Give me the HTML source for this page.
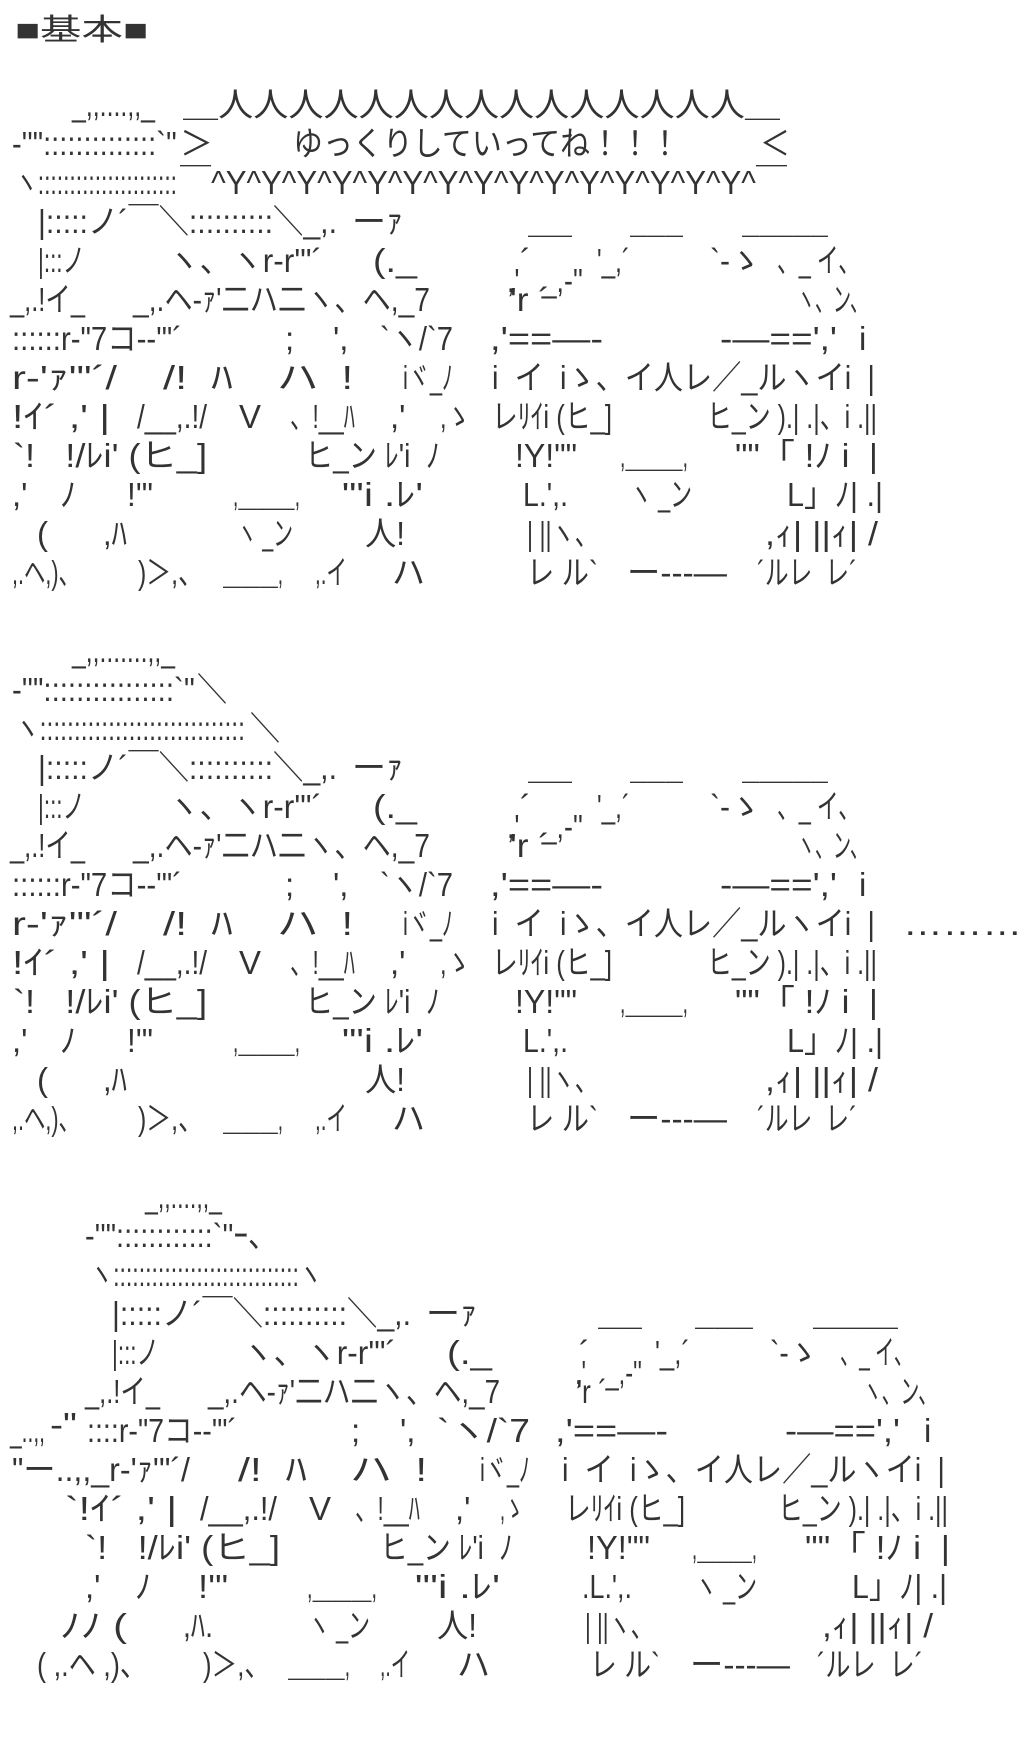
<!DOCTYPE html>
<html><head><meta charset="utf-8">
<style>
html,body{margin:0;padding:0;background:#fff;}
svg{display:block;}
text{font-family:"Liberation Sans","Noto Sans CJK JP",sans-serif;font-size:33px;fill:#333;white-space:pre;}
</style></head>
<body>
<svg width="1029" height="1755" viewBox="0 0 1029 1755" xmlns="http://www.w3.org/2000/svg" xml:space="preserve">
<text x="15" y="40" textLength="133" lengthAdjust="spacingAndGlyphs" style="font-size:30px">■基本■</text>

<!-- ART 1 -->
<g>
<text x="72" y="116" textLength="83" lengthAdjust="spacingAndGlyphs">_,,....,,_</text>
<text x="183" y="116" textLength="597" lengthAdjust="spacingAndGlyphs">＿人人人人人人人人人人人人人人人＿</text>
<text x="12" y="155" textLength="165" lengthAdjust="spacingAndGlyphs">-''"::::::::::::::`''</text>
<text x="180" y="155" textLength="33" lengthAdjust="spacingAndGlyphs">＞</text>
<text x="293" y="155" textLength="387" lengthAdjust="spacingAndGlyphs">ゆっくりしていってね！！！</text>
<text x="760" y="155" textLength="30" lengthAdjust="spacingAndGlyphs">＜</text>
<text x="15" y="194" textLength="162" lengthAdjust="spacingAndGlyphs">ヽ::::::::::::::::::::::</text>
<text x="180" y="194" textLength="607" lengthAdjust="spacingAndGlyphs">￣^Y^Y^Y^Y^Y^Y^Y^Y^Y^Y^Y^Y^Y^Y^Y^￣</text>
<text x="38" y="233" textLength="299" lengthAdjust="spacingAndGlyphs">|:::::ノ´￣＼::::::::::＼_,.</text>
<text x="352" y="233" textLength="51" lengthAdjust="spacingAndGlyphs">ーｧ</text>
<text x="528" y="233" textLength="44" lengthAdjust="spacingAndGlyphs">＿＿</text>
<text x="630" y="233" textLength="53" lengthAdjust="spacingAndGlyphs">＿＿＿</text>
<text x="742" y="233" textLength="86" lengthAdjust="spacingAndGlyphs">＿＿＿＿＿</text>
<text x="38" y="272" textLength="47" lengthAdjust="spacingAndGlyphs">|:::ノ</text>
<text x="168" y="272" textLength="154" lengthAdjust="spacingAndGlyphs">ヽ、ヽr-r'"´</text>
<text x="373" y="272" textLength="44" lengthAdjust="spacingAndGlyphs">(._</text>
<text x="520" y="272">´</text>
<text x="597" y="272" textLength="33" lengthAdjust="spacingAndGlyphs">'_,´</text>
<text x="710" y="272" textLength="50" lengthAdjust="spacingAndGlyphs">`-ゝ</text>
<text x="777" y="272" textLength="83" lengthAdjust="spacingAndGlyphs">、_ イ、</text>
<text x="507" y="292" textLength="76" lengthAdjust="spacingAndGlyphs">,'   _,-''</text>
<text x="10" y="311" textLength="75" lengthAdjust="spacingAndGlyphs">_,.!イ_</text>
<text x="133" y="311" textLength="297" lengthAdjust="spacingAndGlyphs">_,.ヘ-ｧ'二ハ二ヽ、ヘ,_7</text>
<text x="510" y="311" textLength="40" lengthAdjust="spacingAndGlyphs">'r ´</text>
<text x="797" y="311" textLength="71" lengthAdjust="spacingAndGlyphs">ヽ、ン、</text>
<text x="12" y="350" textLength="170" lengthAdjust="spacingAndGlyphs">::::::r-"7コ--'"´</text>
<text x="285" y="350">;</text>
<text x="333" y="350">',</text>
<text x="380" y="350" textLength="73" lengthAdjust="spacingAndGlyphs">`ヽ/`7</text>
<text x="490" y="350" textLength="113" lengthAdjust="spacingAndGlyphs">,'==—-</text>
<text x="720" y="350" textLength="117" lengthAdjust="spacingAndGlyphs">-—==','</text>
<text x="859" y="350">i</text>
<text x="12" y="389" textLength="105" lengthAdjust="spacingAndGlyphs">r-'ｧ'"´/</text>
<text x="163" y="389" textLength="70" lengthAdjust="spacingAndGlyphs">/!  ﾊ</text>
<text x="277" y="389" textLength="76" lengthAdjust="spacingAndGlyphs">ハ  !</text>
<text x="403" y="389" textLength="50" lengthAdjust="spacingAndGlyphs">iヾ_ﾉ</text>
<text x="492" y="389" textLength="383" lengthAdjust="spacingAndGlyphs">i  イ  iゝ、イ人レ／_ルヽイi  |</text>
<text x="12" y="428" textLength="98" lengthAdjust="spacingAndGlyphs">!ｲ´ ,' |</text>
<text x="137" y="428" textLength="70" lengthAdjust="spacingAndGlyphs">/__,.!/</text>
<text x="239" y="428">V</text>
<text x="290" y="428" textLength="65" lengthAdjust="spacingAndGlyphs">、!__ﾊ</text>
<text x="390" y="428">,'</text>
<text x="440" y="428" textLength="30" lengthAdjust="spacingAndGlyphs">,ゝ</text>
<text x="492" y="428" textLength="120" lengthAdjust="spacingAndGlyphs">レﾘｲi (ヒ_]</text>
<text x="707" y="428" textLength="170" lengthAdjust="spacingAndGlyphs">ヒ_ン ).| .|、i .||</text>
<text x="13" y="467" textLength="194" lengthAdjust="spacingAndGlyphs">`!   !/ﾚi' (ヒ_]</text>
<text x="305" y="467" textLength="135" lengthAdjust="spacingAndGlyphs">ヒ_ン ﾚ'i  ﾉ</text>
<text x="515" y="467" textLength="62" lengthAdjust="spacingAndGlyphs">!Y!""</text>
<text x="620" y="467" textLength="68" lengthAdjust="spacingAndGlyphs">,＿＿＿,</text>
<text x="735" y="467" textLength="143" lengthAdjust="spacingAndGlyphs">""「 !ﾉ i  |</text>
<text x="12" y="506">,'</text>
<text x="60" y="506">ﾉ</text>
<text x="127" y="506" textLength="26" lengthAdjust="spacingAndGlyphs">!'"</text>
<text x="233" y="506" textLength="67" lengthAdjust="spacingAndGlyphs">,＿＿＿,</text>
<text x="342" y="506" textLength="81" lengthAdjust="spacingAndGlyphs">"'i .ﾚ'</text>
<text x="523" y="506" textLength="45" lengthAdjust="spacingAndGlyphs">L.',.</text>
<text x="630" y="506" textLength="62" lengthAdjust="spacingAndGlyphs">ヽ _ン</text>
<text x="787" y="506" textLength="96" lengthAdjust="spacingAndGlyphs">L」ﾉ| .|</text>
<text x="37" y="545">(</text>
<text x="103" y="545" textLength="24" lengthAdjust="spacingAndGlyphs">,ﾊ</text>
<text x="237" y="545" textLength="56" lengthAdjust="spacingAndGlyphs">ヽ _ン</text>
<text x="365" y="545" textLength="40" lengthAdjust="spacingAndGlyphs">人!</text>
<text x="527" y="545" textLength="71" lengthAdjust="spacingAndGlyphs">| ||ヽ、</text>
<text x="765" y="545" textLength="113" lengthAdjust="spacingAndGlyphs">,ｨ| ||ｨ| /</text>
<text x="12" y="584" textLength="68" lengthAdjust="spacingAndGlyphs">,.ヘ,)、</text>
<text x="138" y="584" textLength="65" lengthAdjust="spacingAndGlyphs">)＞,、</text>
<text x="223" y="584" textLength="60" lengthAdjust="spacingAndGlyphs">＿＿＿,</text>
<text x="315" y="584" textLength="32" lengthAdjust="spacingAndGlyphs">,.イ</text>
<text x="392" y="584" textLength="33" lengthAdjust="spacingAndGlyphs">ハ</text>
<text x="527" y="584" textLength="71" lengthAdjust="spacingAndGlyphs">レ ル`</text>
<text x="627" y="584" textLength="100" lengthAdjust="spacingAndGlyphs">ー‐‐‐—</text>
<text x="757" y="584" textLength="100" lengthAdjust="spacingAndGlyphs">´ルレ  レ´</text>
</g>

<!-- ART 2 -->
<g>
<text x="72" y="662" textLength="103" lengthAdjust="spacingAndGlyphs">_,,.......,,_</text>
<text x="12" y="701" textLength="183" lengthAdjust="spacingAndGlyphs">-''"::::::::::::::::`''</text>
<text x="197" y="701" textLength="30" lengthAdjust="spacingAndGlyphs">＼</text>
<text x="15" y="740" textLength="230" lengthAdjust="spacingAndGlyphs">ヽ::::::::::::::::::::::::::::::</text>
<text x="250" y="740" textLength="30" lengthAdjust="spacingAndGlyphs">＼</text>
<text x="38" y="779" textLength="299" lengthAdjust="spacingAndGlyphs">|:::::ノ´￣＼::::::::::＼_,.</text>
<text x="352" y="779" textLength="51" lengthAdjust="spacingAndGlyphs">ーｧ</text>
<text x="528" y="779" textLength="44" lengthAdjust="spacingAndGlyphs">＿＿</text>
<text x="630" y="779" textLength="53" lengthAdjust="spacingAndGlyphs">＿＿＿</text>
<text x="742" y="779" textLength="86" lengthAdjust="spacingAndGlyphs">＿＿＿＿＿</text>
<text x="38" y="818" textLength="47" lengthAdjust="spacingAndGlyphs">|:::ノ</text>
<text x="168" y="818" textLength="154" lengthAdjust="spacingAndGlyphs">ヽ、ヽr-r'"´</text>
<text x="373" y="818" textLength="44" lengthAdjust="spacingAndGlyphs">(._</text>
<text x="520" y="818">´</text>
<text x="597" y="818" textLength="33" lengthAdjust="spacingAndGlyphs">'_,´</text>
<text x="710" y="818" textLength="50" lengthAdjust="spacingAndGlyphs">`-ゝ</text>
<text x="777" y="818" textLength="83" lengthAdjust="spacingAndGlyphs">、_ イ、</text>
<text x="507" y="838" textLength="76" lengthAdjust="spacingAndGlyphs">,'   _,-''</text>
<text x="10" y="857" textLength="75" lengthAdjust="spacingAndGlyphs">_,.!イ_</text>
<text x="133" y="857" textLength="297" lengthAdjust="spacingAndGlyphs">_,.ヘ-ｧ'二ハ二ヽ、ヘ,_7</text>
<text x="510" y="857" textLength="40" lengthAdjust="spacingAndGlyphs">'r ´</text>
<text x="797" y="857" textLength="71" lengthAdjust="spacingAndGlyphs">ヽ、ン、</text>
<text x="12" y="896" textLength="170" lengthAdjust="spacingAndGlyphs">::::::r-"7コ--'"´</text>
<text x="285" y="896">;</text>
<text x="333" y="896">',</text>
<text x="380" y="896" textLength="73" lengthAdjust="spacingAndGlyphs">`ヽ/`7</text>
<text x="490" y="896" textLength="113" lengthAdjust="spacingAndGlyphs">,'==—-</text>
<text x="720" y="896" textLength="117" lengthAdjust="spacingAndGlyphs">-—==','</text>
<text x="859" y="896">i</text>
<text x="12" y="935" textLength="105" lengthAdjust="spacingAndGlyphs">r-'ｧ'"´/</text>
<text x="163" y="935" textLength="70" lengthAdjust="spacingAndGlyphs">/!  ﾊ</text>
<text x="277" y="935" textLength="76" lengthAdjust="spacingAndGlyphs">ハ  !</text>
<text x="403" y="935" textLength="50" lengthAdjust="spacingAndGlyphs">iヾ_ﾉ</text>
<text x="492" y="935" textLength="383" lengthAdjust="spacingAndGlyphs">i  イ  iゝ、イ人レ／_ルヽイi  |</text>
<text x="903" y="935" textLength="119" lengthAdjust="spacingAndGlyphs">………</text>
<text x="12" y="974" textLength="98" lengthAdjust="spacingAndGlyphs">!ｲ´ ,' |</text>
<text x="137" y="974" textLength="70" lengthAdjust="spacingAndGlyphs">/__,.!/</text>
<text x="239" y="974">V</text>
<text x="290" y="974" textLength="65" lengthAdjust="spacingAndGlyphs">、!__ﾊ</text>
<text x="390" y="974">,'</text>
<text x="440" y="974" textLength="30" lengthAdjust="spacingAndGlyphs">,ゝ</text>
<text x="492" y="974" textLength="120" lengthAdjust="spacingAndGlyphs">レﾘｲi (ヒ_]</text>
<text x="707" y="974" textLength="170" lengthAdjust="spacingAndGlyphs">ヒ_ン ).| .|、i .||</text>
<text x="13" y="1013" textLength="194" lengthAdjust="spacingAndGlyphs">`!   !/ﾚi' (ヒ_]</text>
<text x="305" y="1013" textLength="135" lengthAdjust="spacingAndGlyphs">ヒ_ン ﾚ'i  ﾉ</text>
<text x="515" y="1013" textLength="62" lengthAdjust="spacingAndGlyphs">!Y!""</text>
<text x="620" y="1013" textLength="68" lengthAdjust="spacingAndGlyphs">,＿＿＿,</text>
<text x="735" y="1013" textLength="143" lengthAdjust="spacingAndGlyphs">""「 !ﾉ i  |</text>
<text x="12" y="1052">,'</text>
<text x="60" y="1052">ﾉ</text>
<text x="127" y="1052" textLength="26" lengthAdjust="spacingAndGlyphs">!'"</text>
<text x="233" y="1052" textLength="67" lengthAdjust="spacingAndGlyphs">,＿＿＿,</text>
<text x="342" y="1052" textLength="81" lengthAdjust="spacingAndGlyphs">"'i .ﾚ'</text>
<text x="523" y="1052" textLength="45" lengthAdjust="spacingAndGlyphs">L.',.</text>
<text x="787" y="1052" textLength="96" lengthAdjust="spacingAndGlyphs">L」ﾉ| .|</text>
<text x="37" y="1091">(</text>
<text x="103" y="1091" textLength="24" lengthAdjust="spacingAndGlyphs">,ﾊ</text>
<text x="365" y="1091" textLength="40" lengthAdjust="spacingAndGlyphs">人!</text>
<text x="527" y="1091" textLength="71" lengthAdjust="spacingAndGlyphs">| ||ヽ、</text>
<text x="765" y="1091" textLength="113" lengthAdjust="spacingAndGlyphs">,ｨ| ||ｨ| /</text>
<text x="12" y="1130" textLength="68" lengthAdjust="spacingAndGlyphs">,.ヘ,)、</text>
<text x="138" y="1130" textLength="65" lengthAdjust="spacingAndGlyphs">)＞,、</text>
<text x="223" y="1130" textLength="60" lengthAdjust="spacingAndGlyphs">＿＿＿,</text>
<text x="315" y="1130" textLength="32" lengthAdjust="spacingAndGlyphs">,.イ</text>
<text x="392" y="1130" textLength="33" lengthAdjust="spacingAndGlyphs">ハ</text>
<text x="527" y="1130" textLength="71" lengthAdjust="spacingAndGlyphs">レ ル`</text>
<text x="627" y="1130" textLength="100" lengthAdjust="spacingAndGlyphs">ー‐‐‐—</text>
<text x="757" y="1130" textLength="100" lengthAdjust="spacingAndGlyphs">´ルレ  レ´</text>
</g>

<!-- ART 3 -->
<g>
<text x="145" y="1208" textLength="77" lengthAdjust="spacingAndGlyphs">_,,....,,_</text>
<text x="85" y="1247" textLength="192" lengthAdjust="spacingAndGlyphs">-''"::::::::::::`''ｰ、</text>
<text x="90" y="1286" textLength="232" lengthAdjust="spacingAndGlyphs">ヽ:::::::::::::::::::::::::::::ヽ</text>
<text x="112" y="1325" textLength="299" lengthAdjust="spacingAndGlyphs">|:::::ノ´￣＼::::::::::＼_,.</text>
<text x="426" y="1325" textLength="51" lengthAdjust="spacingAndGlyphs">ーｧ</text>
<text x="598" y="1325" textLength="44" lengthAdjust="spacingAndGlyphs">＿＿</text>
<text x="695" y="1325" textLength="58" lengthAdjust="spacingAndGlyphs">＿＿＿</text>
<text x="813" y="1325" textLength="85" lengthAdjust="spacingAndGlyphs">＿＿＿＿＿</text>
<text x="112" y="1364" textLength="47" lengthAdjust="spacingAndGlyphs">|:::ノ</text>
<text x="242" y="1364" textLength="154" lengthAdjust="spacingAndGlyphs">ヽ、ヽr-r'"´</text>
<text x="447" y="1364" textLength="45" lengthAdjust="spacingAndGlyphs">(._</text>
<text x="579" y="1364">´</text>
<text x="655" y="1364" textLength="35" lengthAdjust="spacingAndGlyphs">'_,´</text>
<text x="770" y="1364" textLength="47" lengthAdjust="spacingAndGlyphs">`-ゝ</text>
<text x="840" y="1364" textLength="73" lengthAdjust="spacingAndGlyphs">、_ イ、</text>
<text x="575" y="1384" textLength="67" lengthAdjust="spacingAndGlyphs">,'   _,-''</text>
<text x="85" y="1403" textLength="75" lengthAdjust="spacingAndGlyphs">_,.!イ_</text>
<text x="208" y="1403" textLength="292" lengthAdjust="spacingAndGlyphs">_,.ヘ-ｧ'二ハ二ヽ、ヘ,_7</text>
<text x="577" y="1403" textLength="30" lengthAdjust="spacingAndGlyphs">'r ´</text>
<text x="863" y="1403" textLength="74" lengthAdjust="spacingAndGlyphs">ヽ、ン、</text>
<text x="10" y="1442" textLength="35" lengthAdjust="spacingAndGlyphs">_..,,</text>
<text x="50" y="1436" textLength="27" lengthAdjust="spacingAndGlyphs">-"</text>
<text x="87" y="1442" textLength="150" lengthAdjust="spacingAndGlyphs">::::r-"7コ--'"´</text>
<text x="351" y="1442">;</text>
<text x="400" y="1442">',</text>
<text x="437" y="1442" textLength="93" lengthAdjust="spacingAndGlyphs">`ヽ/`7</text>
<text x="555" y="1442" textLength="113" lengthAdjust="spacingAndGlyphs">,'==—-</text>
<text x="785" y="1442" textLength="115" lengthAdjust="spacingAndGlyphs">-—==','</text>
<text x="924" y="1442">i</text>
<text x="12" y="1481" textLength="178" lengthAdjust="spacingAndGlyphs">"ー..,,_r-'ｧ'"´/</text>
<text x="238" y="1481" textLength="69" lengthAdjust="spacingAndGlyphs">/!  ﾊ</text>
<text x="350" y="1481" textLength="77" lengthAdjust="spacingAndGlyphs">ハ  !</text>
<text x="480" y="1481" textLength="50" lengthAdjust="spacingAndGlyphs">iヾ_ﾉ</text>
<text x="562" y="1481" textLength="383" lengthAdjust="spacingAndGlyphs">i  イ  iゝ、イ人レ／_ルヽイi  |</text>
<text x="65" y="1520" textLength="112" lengthAdjust="spacingAndGlyphs">`!ｲ´ ,' |</text>
<text x="200" y="1520" textLength="77" lengthAdjust="spacingAndGlyphs">/__,.!/</text>
<text x="309" y="1520">V</text>
<text x="355" y="1520" textLength="65" lengthAdjust="spacingAndGlyphs">、!__ﾊ</text>
<text x="455" y="1520">,'</text>
<text x="500" y="1520" textLength="23" lengthAdjust="spacingAndGlyphs">,ゝ</text>
<text x="565" y="1520" textLength="120" lengthAdjust="spacingAndGlyphs">レﾘｲi (ヒ_]</text>
<text x="778" y="1520" textLength="170" lengthAdjust="spacingAndGlyphs">ヒ_ン ).| .|、i .||</text>
<text x="85" y="1559" textLength="195" lengthAdjust="spacingAndGlyphs">`!   !/ﾚi' (ヒ_]</text>
<text x="380" y="1559" textLength="133" lengthAdjust="spacingAndGlyphs">ヒ_ン ﾚ'i  ﾉ</text>
<text x="587" y="1559" textLength="63" lengthAdjust="spacingAndGlyphs">!Y!""</text>
<text x="692" y="1559" textLength="65" lengthAdjust="spacingAndGlyphs">,＿＿＿,</text>
<text x="805" y="1559" textLength="145" lengthAdjust="spacingAndGlyphs">""「 !ﾉ i  |</text>
<text x="85" y="1598">,'</text>
<text x="135" y="1598">ﾉ</text>
<text x="198" y="1598" textLength="30" lengthAdjust="spacingAndGlyphs">!'"</text>
<text x="307" y="1598" textLength="70" lengthAdjust="spacingAndGlyphs">,＿＿＿,</text>
<text x="415" y="1598" textLength="85" lengthAdjust="spacingAndGlyphs">"'i .ﾚ'</text>
<text x="582" y="1598" textLength="50" lengthAdjust="spacingAndGlyphs">.L.',.</text>
<text x="695" y="1598" textLength="62" lengthAdjust="spacingAndGlyphs">ヽ _ン</text>
<text x="852" y="1598" textLength="95" lengthAdjust="spacingAndGlyphs">L」ﾉ| .|</text>
<text x="60" y="1637" textLength="67" lengthAdjust="spacingAndGlyphs">ﾉﾉ (</text>
<text x="183" y="1637" textLength="30" lengthAdjust="spacingAndGlyphs">,ﾊ.</text>
<text x="308" y="1637" textLength="62" lengthAdjust="spacingAndGlyphs">ヽ _ン</text>
<text x="437" y="1637" textLength="40" lengthAdjust="spacingAndGlyphs">人!</text>
<text x="585" y="1637" textLength="68" lengthAdjust="spacingAndGlyphs">| ||ヽ、</text>
<text x="822" y="1637" textLength="111" lengthAdjust="spacingAndGlyphs">,ｨ| ||ｨ| /</text>
<text x="37" y="1676" textLength="110" lengthAdjust="spacingAndGlyphs">( ,.ヘ ,)、</text>
<text x="203" y="1676" textLength="67" lengthAdjust="spacingAndGlyphs">)＞,、</text>
<text x="288" y="1676" textLength="62" lengthAdjust="spacingAndGlyphs">＿＿＿,</text>
<text x="380" y="1676" textLength="30" lengthAdjust="spacingAndGlyphs">,.イ</text>
<text x="457" y="1676" textLength="33" lengthAdjust="spacingAndGlyphs">ハ</text>
<text x="590" y="1676" textLength="70" lengthAdjust="spacingAndGlyphs">レ ル`</text>
<text x="690" y="1676" textLength="100" lengthAdjust="spacingAndGlyphs">ー‐‐‐—</text>
<text x="817" y="1676" textLength="106" lengthAdjust="spacingAndGlyphs">´ルレ  レ´</text>
</g>
</svg>
</body></html>
